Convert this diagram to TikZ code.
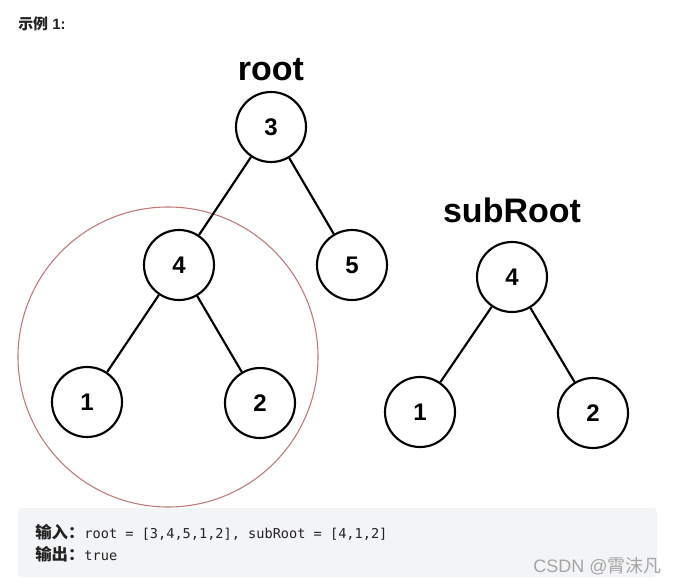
\documentclass[tikz,border=0pt]{standalone}
\usepackage{fontspec}
\setmainfont{Liberation Sans}
\setmonofont{DejaVu Sans Mono}
\newfontfamily\cjk{Noto Sans CJK SC}
\definecolor{ringred}{RGB}{192,120,120}
\definecolor{codebg}{RGB}{243,244,246}
\definecolor{marktext}{RGB}{165,165,165}
\definecolor{inktext}{RGB}{34,34,34}
\begin{document}
\begin{tikzpicture}[x=0.75pt,y=-0.75pt,
  treenode/.style={circle,draw=black,line width=1.6pt,minimum size=52.5pt,inner sep=0pt,
    font=\fontsize{18}{18}\selectfont\bfseries},
  treeedge/.style={line width=1.6pt,black},
  treetitle/.style={font=\fontsize{25.5}{26}\selectfont\bfseries,inner sep=0pt},
  codetext/.style={anchor=west,inner sep=0pt,text=inktext,font=\fontsize{10.2}{12}\selectfont}]
\useasboundingbox[fill=white] (0,0) rectangle (678,585);
% heading
\node[anchor=west,inner sep=0pt,text=inktext,font=\fontsize{11.2}{13}\selectfont\bfseries] (head) at (18,24) {{\cjk\bfseries 示例} 1:};
% highlight ring
\draw[ringred,line width=0.8pt] (168,357) circle (150);
% root tree
\node[treetitle] (rootlbl) at (271,70) {root};
\node[treenode] (r3) at (271,127) {3};
\node[treenode] (r4) at (179,265) {4};
\node[treenode] (r5) at (352,265) {5};
\node[treenode] (r1) at (87,402) {1};
\node[treenode] (r2) at (260,403) {2};
\draw[treeedge] (r3) -- (r4);
\draw[treeedge] (r3) -- (r5);
\draw[treeedge] (r4) -- (r1);
\draw[treeedge] (r4) -- (r2);
% subRoot tree
\node[treetitle] (sublbl) at (512,210) {subRoot};
\node[treenode] (s4) at (512,277) {4};
\node[treenode] (s1) at (420,412) {1};
\node[treenode] (s2) at (593,413) {2};
\draw[treeedge] (s4) -- (s1);
\draw[treeedge] (s4) -- (s2);
% code box
\fill[codebg,rounded corners=3pt] (18,508) rectangle (657,577);
\node[codetext] (inl) at (35,532) {{\cjk\bfseries\fontsize{12.3}{14}\selectfont 输入：}\ttfamily\fontsize{10.2}{12}\selectfont root = [3,4,5,1,2], subRoot = [4,1,2]};
\node[codetext] (outl) at (35,554) {{\cjk\bfseries\fontsize{12.3}{14}\selectfont 输出：}\ttfamily\fontsize{10.2}{12}\selectfont true};
\node[anchor=east,inner sep=0pt,text=marktext,font=\fontsize{13.5}{15}\selectfont] (mark) at (662,566) {CSDN @{\cjk 霄沫凡}};
\end{tikzpicture}
\end{document}
